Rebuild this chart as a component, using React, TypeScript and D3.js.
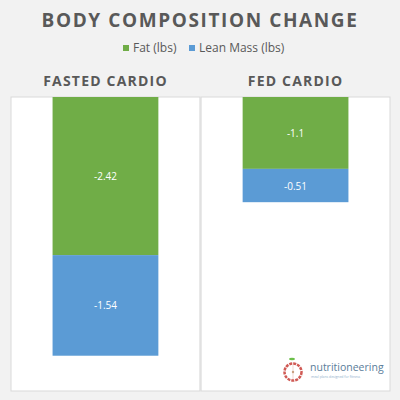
import React, { useRef, useEffect } from 'react';
import * as d3 from 'd3';

const categories = ['FASTED CARDIO', 'FED CARDIO'];
const seriesNames = ['Fat (lbs)', 'Lean Mass (lbs)'];
const fatValues = [-2.42, -1.1];
const leanValues = [-1.54, -0.51];
const seriesColors = ['#70ad47', '#5b9bd5'];

const W = 400;
const H = 400;

const App: React.FC = () => {
  const svgRef = useRef<SVGSVGElement | null>(null);

  useEffect(() => {
    if (!svgRef.current) return;
    const svg = d3.select<SVGSVGElement, unknown>(svgRef.current);
    svg.selectAll('*').remove();

    const font = "'Open Sans', sans-serif";
    const textColor = '#595959';

    svg.append('rect').attr('width', W).attr('height', H).attr('fill', '#f2f2f2');

    // title
    svg.append('text')
      .attr('x', W / 2)
      .attr('y', 27)
      .attr('text-anchor', 'middle')
      .style('font-family', font)
      .style('font-size', '19px')
      .style('font-weight', 'bold')
      .style('letter-spacing', '1.6px')
      .style('fill', textColor)
      .text('BODY COMPOSITION CHANGE');

    // legend
    const legendX = [123, 189];
    seriesNames.forEach((name, i) => {
      svg.append('rect')
        .attr('x', legendX[i])
        .attr('y', 45)
        .attr('width', 6)
        .attr('height', 6)
        .attr('fill', seriesColors[i]);
      svg.append('text')
        .attr('x', legendX[i] + 10)
        .attr('y', 52)
        .style('font-family', font)
        .style('font-size', '12px')
        .style('fill', textColor)
        .text(name);
    });

    const x = d3.scaleBand<string>()
      .domain(categories)
      .range([11, 390])
      .paddingInner(0.006);
    const y = d3.scaleLinear().domain([-4.5, 0]).range([391, 97]);

    const stackData = categories.map((c, i) => ({ cat: c, fat: fatValues[i], lean: leanValues[i] }));
    const stack = d3.stack<{ cat: string; fat: number; lean: number }>()
      .keys(['fat', 'lean'])
      .offset(d3.stackOffsetDiverging);
    const layers = stack(stackData);

    categories.forEach((c) => {
      const px = x(c)!;
      svg.append('rect')
        .attr('x', px)
        .attr('y', y(0))
        .attr('width', x.bandwidth())
        .attr('height', y(-4.5) - y(0))
        .attr('fill', '#ffffff')
        .attr('stroke', '#d9d9d9')
        .attr('stroke-width', 1);
      svg.append('text')
        .attr('x', px + x.bandwidth() / 2)
        .attr('y', 86)
        .attr('text-anchor', 'middle')
        .style('font-family', font)
        .style('font-size', '14px')
        .style('font-weight', 'bold')
        .style('letter-spacing', '1.2px')
        .style('fill', textColor)
        .text(c);
    });

    const barW = x.bandwidth() * 0.56;
    layers.forEach((layer, li) => {
      const key = layer.key as 'fat' | 'lean';
      layer.forEach((d) => {
        const cat = d.data.cat;
        const cx = x(cat)! + x.bandwidth() / 2;
        const top = y(d[1]);
        const bottom = y(d[0]);
        svg.append('rect')
          .attr('x', cx - barW / 2)
          .attr('y', top)
          .attr('width', barW)
          .attr('height', bottom - top)
          .attr('fill', seriesColors[li]);
        svg.append('text')
          .attr('x', cx)
          .attr('y', (top + bottom) / 2 + 4)
          .attr('text-anchor', 'middle')
          .style('font-family', font)
          .style('font-size', '10px')
          .style('fill', '#ffffff')
          .text(String(d.data[key]));
      });
    });

    // logo
    const logo = svg.append('g').attr('transform', 'translate(293,372)');
    logo.append('circle').attr('r', 8.5).attr('fill', '#ffffff').attr('stroke', '#d05a55').attr('stroke-width', 2.5)
      .attr('stroke-dasharray', '3 1');
    logo.append('line').attr('x1', 0).attr('x2', 0).attr('y1', -7).attr('y2', 7).attr('stroke', '#e8b8b0').attr('stroke-width', 0.6);
    logo.append('circle').attr('r', 1.2).attr('fill', '#c9a080');
    logo.append('ellipse').attr('cx', -1).attr('cy', -13).attr('rx', 3).attr('ry', 1.3).attr('fill', '#6cbf4a');
    svg.append('text')
      .attr('x', 310)
      .attr('y', 371)
      .style('font-family', font)
      .style('font-size', '10.5px')
      .style('fill', '#5a7d9a')
      .text('nutritioneering');
    svg.append('text')
      .attr('x', 311)
      .attr('y', 377.5)
      .style('font-family', font)
      .style('font-size', '3.4px')
      .style('fill', '#8fb0cc')
      .text('meal plans designed for fitness');
  }, []);

  return (
    <svg ref={svgRef} width={W} height={H} style={{ position: 'absolute', left: 0, top: 0 }} />
  );
};

export default App;
